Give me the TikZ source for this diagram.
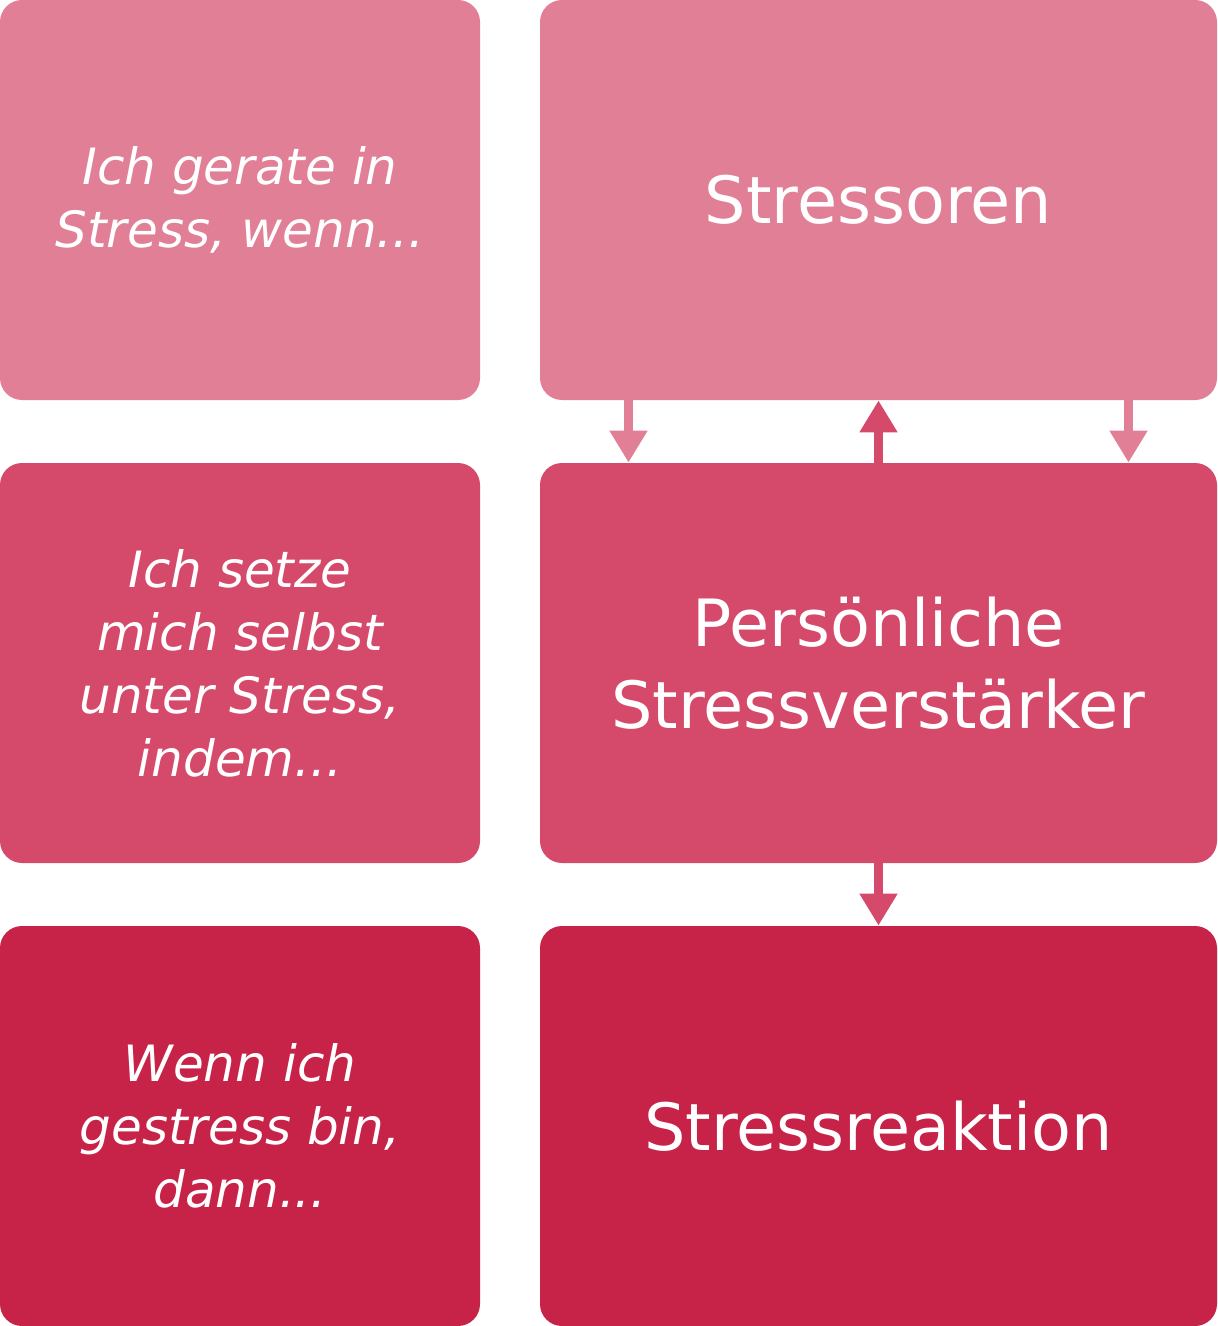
\documentclass[tikz,border=0pt]{standalone}
\usepackage{fontspec}
\setmainfont{DejaVu Sans}
\usetikzlibrary{arrows.meta}
\definecolor{stresslight}{HTML}{E07F96}
\definecolor{stressmid}{HTML}{D5496A}
\definecolor{stressdark}{HTML}{C72247}
\tikzset{
    tile/.style={rectangle, rounded corners=11pt, inner sep=0pt, text=white, align=center},
    smalltile/.style={tile, minimum width=240pt, minimum height=200pt, font=\fontsize{25}{31.5}\selectfont\itshape},
    bigtile/.style={tile, minimum width=338.5pt, minimum height=200pt, font=\fontsize{32.6}{41}\selectfont},
    flow/.style={line width=4.5pt, -{Triangle[width=18pt, length=16pt]}}
}
\begin{document}
\begin{tikzpicture}[x=0.5pt, y=-0.5pt]
    \useasboundingbox (0, 0) rectangle (1217, 1326);

    % left column
    \node[smalltile, fill=stresslight] (when) at (240, 200) {Ich gerate in\\Stress, wenn...};
    \node[smalltile, fill=stressmid] (self) at (240, 663) {Ich setze\\mich selbst\\unter Stress,\\indem...};
    \node[smalltile, fill=stressdark] (then) at (240, 1126) {Wenn ich\\gestress bin,\\dann...};

    % right column
    \node[bigtile, fill=stresslight] (str) at (878.5, 200) {Stressoren};
    \node[bigtile, fill=stressmid] (per) at (878.5, 663) {Persönliche\\Stressverstärker};
    \node[bigtile, fill=stressdark] (rea) at (878.5, 1126) {Stressreaktion};

    \draw[flow, stresslight] ([xshift=-125pt]str.south) -- ([xshift=-125pt]per.north);
    \draw[flow, stresslight] ([xshift=125pt]str.south) -- ([xshift=125pt]per.north);
    \draw[flow, stressmid] (per.north) -- (str.south);
    \draw[flow, stressmid] (per.south) -- (rea.north);
\end{tikzpicture}
\end{document}
